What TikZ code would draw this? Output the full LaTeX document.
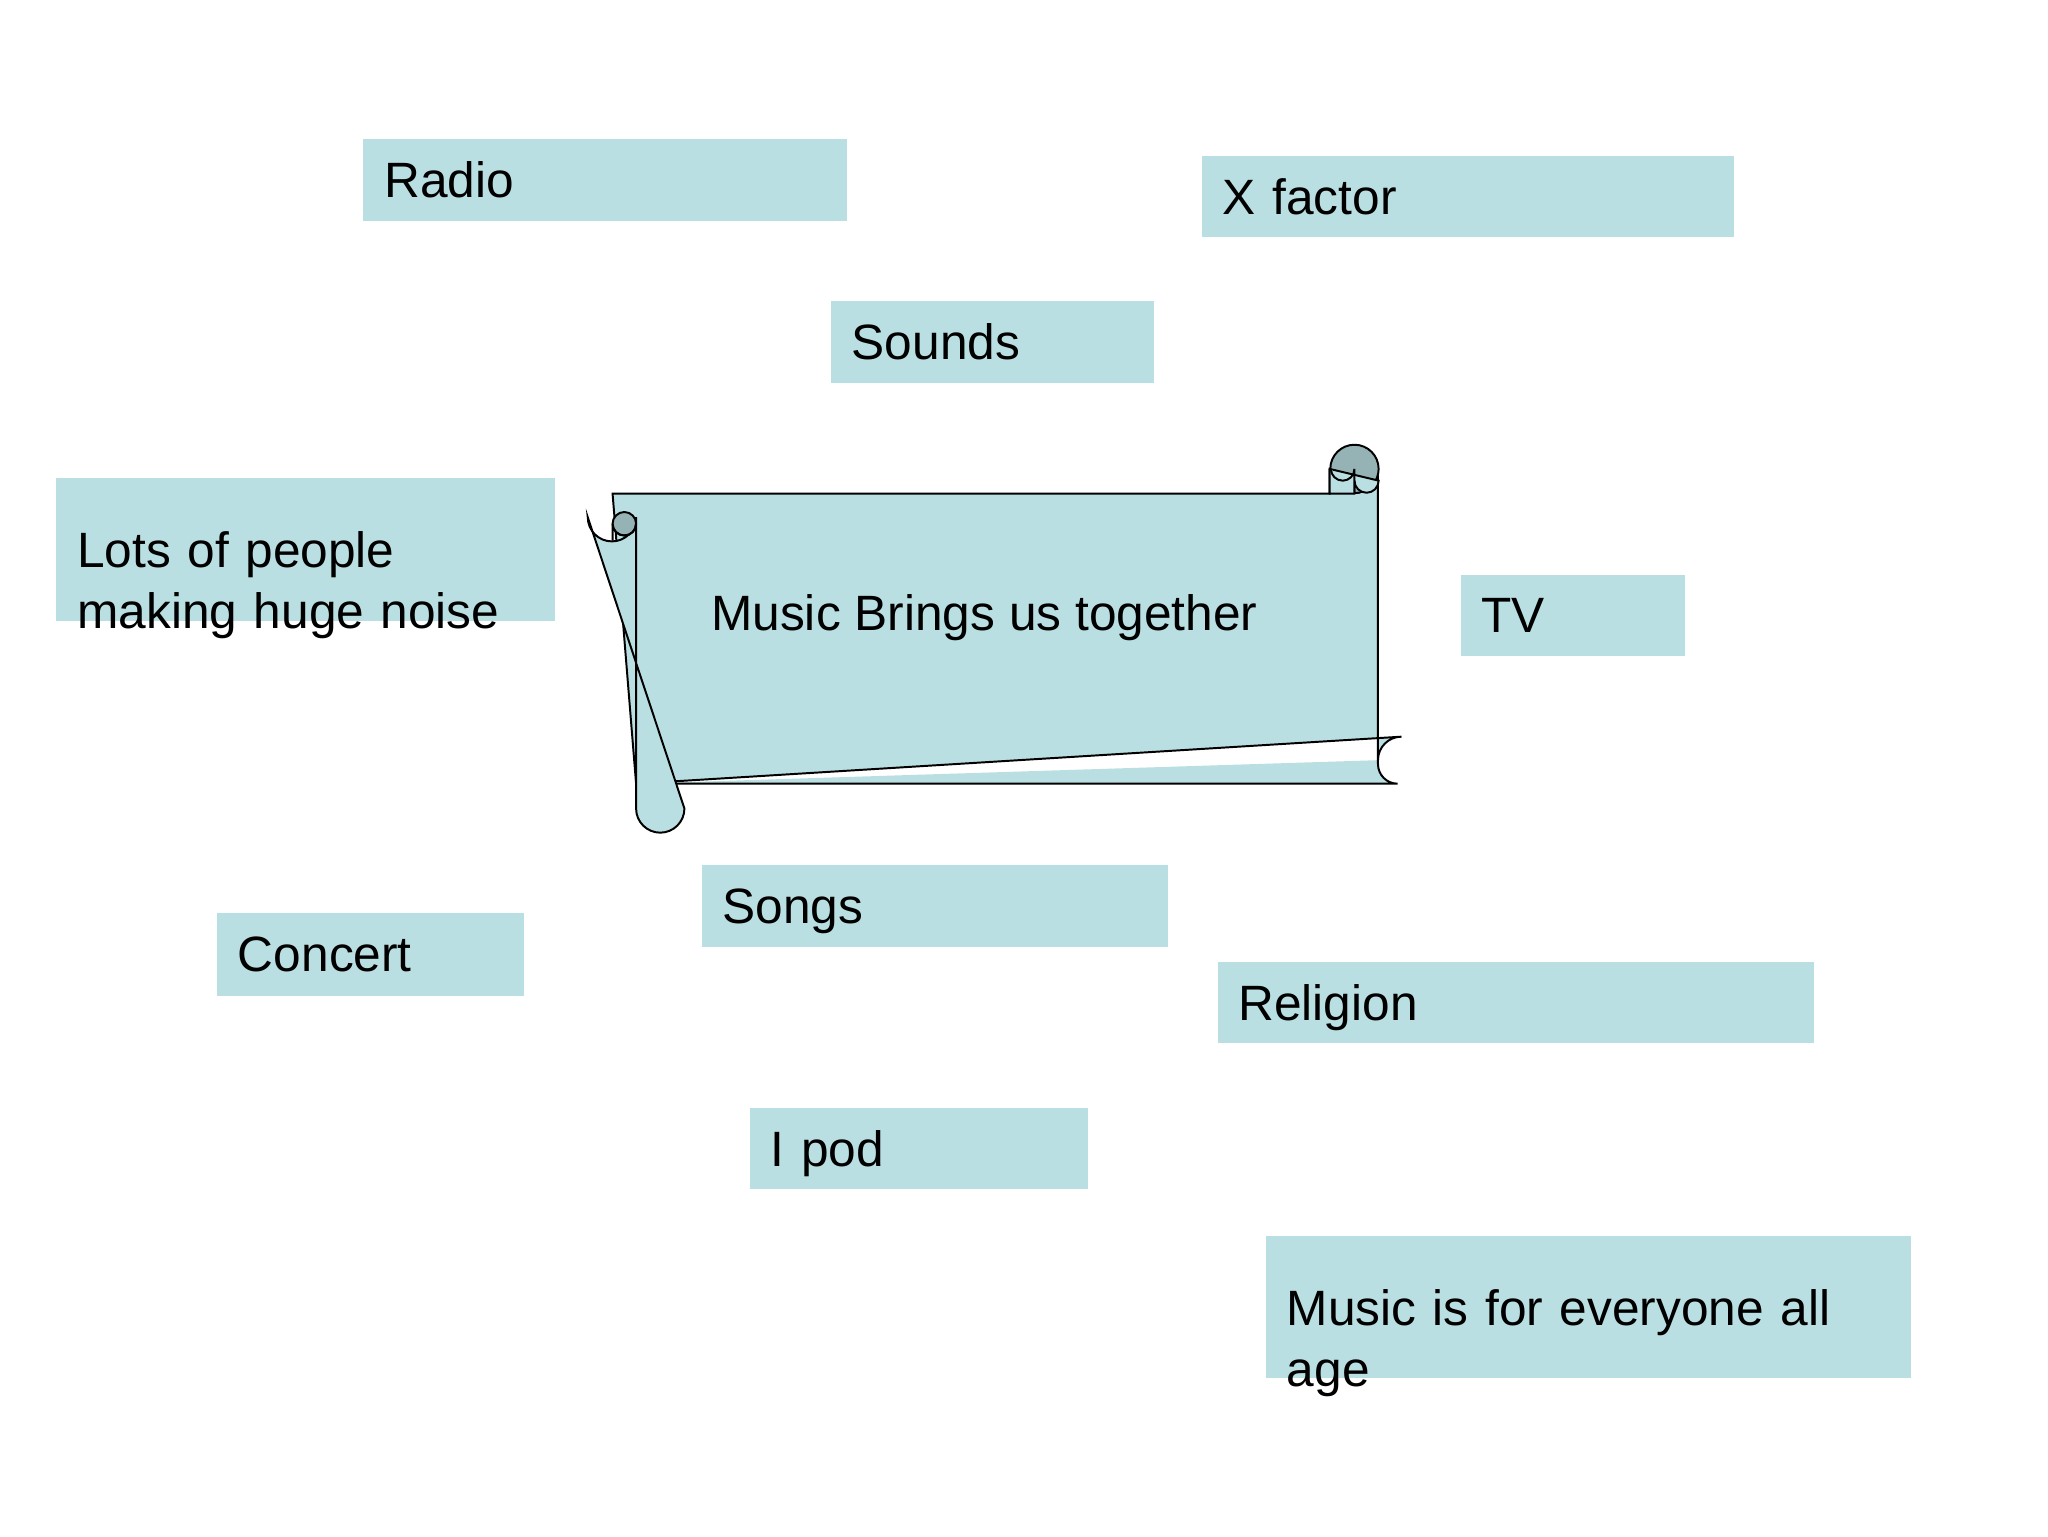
\documentclass[tikz,border=0pt]{standalone}
\usepackage{fontspec}
\setmainfont{Liberation Sans}
\definecolor{boxc}{HTML}{BADFE2}
\definecolor{rollc}{HTML}{95B2B5}
\begin{document}
\begin{tikzpicture}[x=1pt,y=-1pt,
  lbl/.style={fill=boxc,anchor=north west,inner xsep=16pt,inner ysep=0pt,align=left,
    font=\fontsize{38}{47}\selectfont,text depth=0pt}]
\useasboundingbox[fill=white] (0,0) rectangle (1568,1176);
\newcommand\lb[6]{\node[lbl,minimum width=#3-#1,minimum height=#4-#2,text width=#3-#1-32] (#5) at (#1,#2) {#6};}
\lb{278}{106}{648}{169}{radio}{Radio}
\lb{920}{119}{1327}{181}{xf}{X factor}
\lb{636}{230}{883}{293}{sounds}{Sounds}
\lb{43}{366}{425}{475}{lots}{Lots of people\\making huge noise}
\lb{1118}{440}{1290}{502}{tv}{TV}
\lb{166}{699}{401}{762}{concert}{Concert}
\lb{537}{662}{894}{725}{songs}{Songs}
\lb{932}{736}{1389}{798}{religion}{Religion}
\lb{574}{848}{833}{910}{ipod}{I pod}
\lb{969}{946}{1463}{1055}{everyone}{Music is for everyone all\\age}
% scroll body
\draw[line width=1.5pt,fill=boxc] (469,378) -- (1018,378) -- (1018,359) arc[start angle=180,end angle=0,radius=18.5]
  -- (1055,582) arc[start angle=0,end angle=90,radius=-18] -- (487,600) -- cycle;
\draw[line width=1.5pt,fill=boxc] (1055,582) -- (1055,585) arc[start angle=0,end angle=-90,radius=-15] -- (487,600);
% top-right curl
\draw[line width=1.5pt,fill=rollc] (1037,359) circle[radius=18.5];
\draw[line width=1.5pt,fill=boxc] (1018,359) -- (1018,378) -- (1037,378) -- (1037,368) arc[start angle=0,end angle=-180,radius=-9.25] -- cycle;
\draw[line width=1.5pt,fill=boxc] (1037,378) -- (1037,359) arc[start angle=180,end angle=360,radius=-9] ;
% left roll
\draw[line width=1.5pt,fill=boxc] (450,396) arc[start angle=180,end angle=0,radius=18.5] -- (487,619)
  arc[start angle=0,end angle=-180,radius=-18.5] -- cycle;
\draw[line width=1.5pt,fill=rollc] (478,401) circle[radius=9];
\draw[line width=1.5pt] (469,414) -- (469,401) arc[start angle=180,end angle=0,radius=9];
\draw[line width=1.5pt] (487,396) -- (487,600);
\node[anchor=west,font=\fontsize{38}{47}\selectfont] (main) at (541,473) {Music Brings us together};
\end{tikzpicture}
\end{document}
